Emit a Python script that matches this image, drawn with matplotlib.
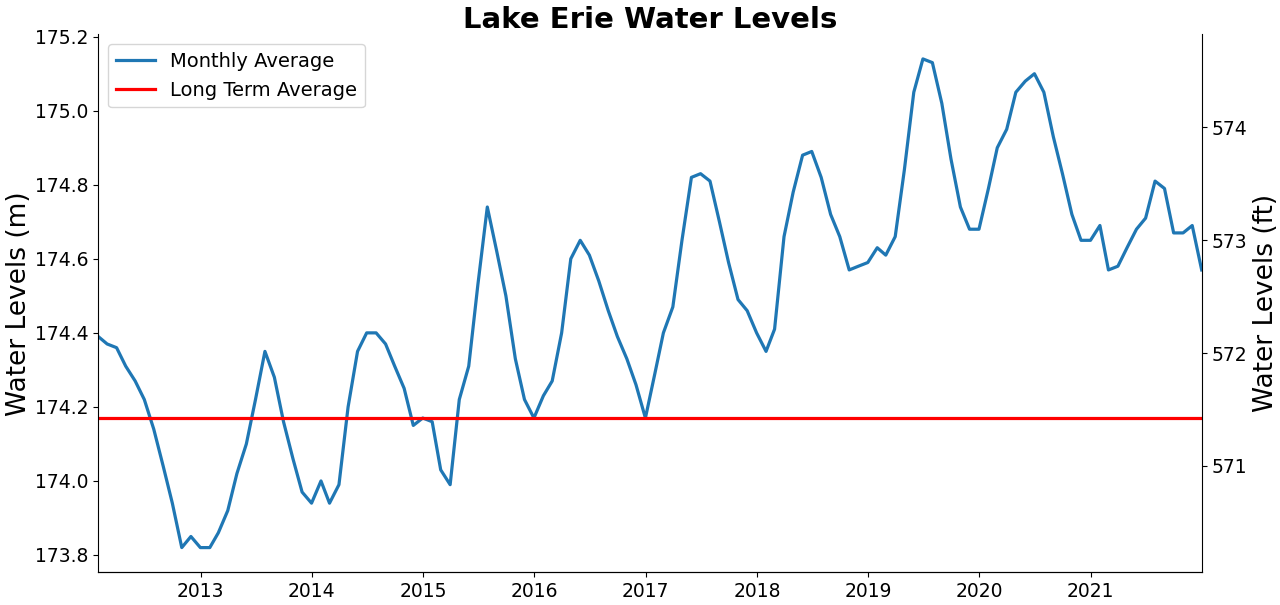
import pandas as pd
import numpy as np
import matplotlib
matplotlib.use("Agg")
import matplotlib.pyplot as plt

# Datos: promedio mensual del nivel del lago Erie (m), ene 2012 - dic 2021
niveles = [
    174.39, 174.37, 174.36, 174.31, 174.27, 174.22, 174.14, 174.04, 173.94, 173.82, 173.85, 173.82,  # 2012
    173.82, 173.86, 173.92, 174.02, 174.10, 174.22, 174.35, 174.28, 174.16, 174.06, 173.97, 173.94,  # 2013
    174.00, 173.94, 173.99, 174.20, 174.35, 174.40, 174.40, 174.37, 174.31, 174.25, 174.15, 174.17,  # 2014
    174.16, 174.03, 173.99, 174.22, 174.31, 174.53, 174.74, 174.62, 174.50, 174.33, 174.22, 174.17,  # 2015
    174.23, 174.27, 174.40, 174.60, 174.65, 174.61, 174.54, 174.46, 174.39, 174.33, 174.26, 174.17,  # 2016
    174.29, 174.40, 174.47, 174.65, 174.82, 174.83, 174.81, 174.70, 174.59, 174.49, 174.46, 174.40,  # 2017
    174.35, 174.41, 174.66, 174.78, 174.88, 174.89, 174.82, 174.72, 174.66, 174.57, 174.58, 174.59,  # 2018
    174.63, 174.61, 174.66, 174.84, 175.05, 175.14, 175.13, 175.02, 174.87, 174.74, 174.68, 174.68,  # 2019
    174.79, 174.90, 174.95, 175.05, 175.08, 175.10, 175.05, 174.93, 174.83, 174.72, 174.65, 174.65,  # 2020
    174.69, 174.57, 174.58, 174.63, 174.68, 174.71, 174.81, 174.79, 174.67, 174.67, 174.69, 174.57,  # 2021
]
fechas = pd.date_range("2012-01-31", periods=len(niveles), freq="ME")
promedio_largo = 174.17
M_A_FT = 3.28084


fig, ax = plt.subplots(figsize=(12.8, 6.05), dpi=100)
fig.subplots_adjust(left=0.0768, right=0.9388, bottom=0.0545, top=0.943)

ax.plot(fechas, niveles, color="#1f77b4", lw=2.3, label="Monthly Average")
ax.axhline(promedio_largo, color="red", lw=2.3, label="Long Term Average")
ax.set_xlim(fechas[0], fechas[-1])
ax.set_ylabel("Water Levels (m)", fontsize=19, labelpad=2)
ax.set_title("Lake Erie Water Levels", fontsize=21, fontweight="bold", pad=3)
ax.tick_params(labelsize=13.5)
ax.legend(loc="upper left", fontsize=14)
ax.spines["top"].set_visible(False)
ax.spines["right"].set_visible(False)

# Eje derecho en pies
ax2 = ax.twinx()
y0, y1 = ax.get_ylim()
ax2.set_ylim(y0 * M_A_FT, y1 * M_A_FT)
ax2.set_ylabel("Water Levels (ft)", fontsize=19, labelpad=4)
ax2.tick_params(labelsize=13.5)
ax2.spines["top"].set_visible(False)
ax2.spines["left"].set_visible(False)

fig.savefig("out.png")
